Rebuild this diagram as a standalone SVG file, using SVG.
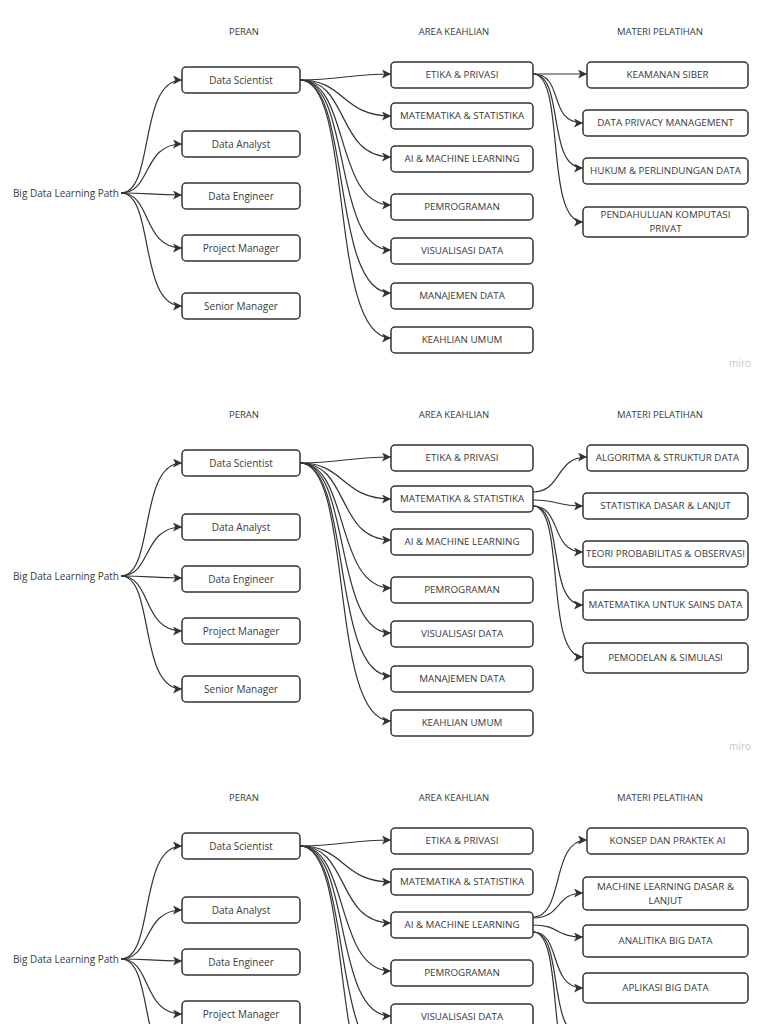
<svg xmlns="http://www.w3.org/2000/svg" width="768" height="1024" viewBox="0 0 768 1024">
<defs>
<marker id="ah" viewBox="0 0 10 10" refX="10" refY="5" markerWidth="9" markerHeight="9" markerUnits="userSpaceOnUse" orient="auto">
<path d="M0,0 L10,5 L0,10 L2.5,5 z" fill="#333"/>
</marker>
</defs>
<style>
.box{fill:#fff;stroke:#333;stroke-width:1.5}
.t{font-family:"Open Sans","Liberation Sans",sans-serif;font-size:10px;fill:#3a3a3a;text-anchor:middle}
.c{font-size:9.8px}
.h{font-family:"Open Sans","Liberation Sans",sans-serif;font-size:9.5px;fill:#3a3a3a;text-anchor:middle}
.root{font-family:"Open Sans","Liberation Sans",sans-serif;font-size:10px;fill:#3a3a3a;text-anchor:end}
.miro{font-family:"Open Sans","Liberation Sans",sans-serif;font-size:10px;fill:#c8c8c8;text-anchor:end}
.e{fill:none;stroke:#333;stroke-width:1.2;marker-end:url(#ah)}
</style>
<rect width="768" height="1024" fill="#fff"/>

<!-- PANEL 1 -->
<g id="panel1">
<text class="h" x="244" y="35">PERAN</text>
<text class="h" x="454" y="35">AREA KEAHLIAN</text>
<text class="h" x="660" y="35">MATERI PELATIHAN</text>
<text class="miro" x="751" y="367">miro</text>
<g id="p1-connectors">
<path class="e" d="M121,193 C155,193 138,80 182,80"/>
<path class="e" d="M121,193 C152,193 142,144 182,144"/>
<path class="e" d="M121,193 C150,193 150,195 182,195"/>
<path class="e" d="M121,193 C152,193 142,248 182,248"/>
<path class="e" d="M121,193 C155,193 138,306 182,306"/>
<path class="e" d="M300,80 C340,80 350,74 391,74"/>
<path class="e" d="M300,80 C345,80 342,116 391,116"/>
<path class="e" d="M300,80 C350,80 336,157 391,157"/>
<path class="e" d="M300,80 C350,80 334,205 391,205"/>
<path class="e" d="M300,80 C352,80 332,250 391,250"/>
<path class="e" d="M300,80 C352,80 330,293 391,293"/>
<path class="e" d="M300,80 C354,80 328,338 391,338"/>
<path class="e" d="M533,74 L587,74"/>
<path class="e" d="M533,74 C565,74 547,123 583,123"/>
<path class="e" d="M533,74 C565,74 546,168 583,168"/>
<path class="e" d="M533,74 C566,74 544,222 583,222"/>
</g>
<g id="p1-root"><text class="root" x="119" y="196.5">Big Data Learning Path</text></g>
<g id="p1-ds"><rect class="box" x="182" y="67" width="118" height="26" rx="4"/><text class="t" x="241" y="83.5">Data Scientist</text></g>
<g id="p1-da"><rect class="box" x="182" y="131" width="118" height="26" rx="4"/><text class="t" x="241" y="147.5">Data Analyst</text></g>
<g id="p1-de"><rect class="box" x="182" y="183" width="118" height="26" rx="4"/><text class="t" x="241" y="199.5">Data Engineer</text></g>
<g id="p1-pm"><rect class="box" x="182" y="235" width="118" height="26" rx="4"/><text class="t" x="241" y="251.5">Project Manager</text></g>
<g id="p1-sm"><rect class="box" x="182" y="293" width="118" height="26" rx="4"/><text class="t" x="241" y="309.5">Senior Manager</text></g>
<g id="p1-etika"><rect class="box" x="391" y="62" width="142" height="26" rx="4"/><text class="t c" x="462" y="78">ETIKA &amp; PRIVASI</text></g>
<g id="p1-mat"><rect class="box" x="391" y="103" width="142" height="26" rx="4"/><text class="t c" x="462" y="119">MATEMATIKA &amp; STATISTIKA</text></g>
<g id="p1-ai"><rect class="box" x="391" y="146" width="142" height="26" rx="4"/><text class="t c" x="462" y="162">AI &amp; MACHINE LEARNING</text></g>
<g id="p1-pem"><rect class="box" x="391" y="194" width="142" height="26" rx="4"/><text class="t c" x="462" y="210">PEMROGRAMAN</text></g>
<g id="p1-vis"><rect class="box" x="391" y="238" width="142" height="26" rx="4"/><text class="t c" x="462" y="254">VISUALISASI DATA</text></g>
<g id="p1-man"><rect class="box" x="391" y="283" width="142" height="26" rx="4"/><text class="t c" x="462" y="299">MANAJEMEN DATA</text></g>
<g id="p1-kea"><rect class="box" x="391" y="327" width="142" height="26" rx="4"/><text class="t c" x="462" y="343">KEAHLIAN UMUM</text></g>
<g id="p1-m1"><rect class="box" x="587" y="62" width="161" height="26" rx="4"/><text class="t c" x="667.5" y="78">KEAMANAN SIBER</text></g>
<g id="p1-m2"><rect class="box" x="583" y="110" width="165" height="26" rx="4"/><text class="t c" x="665.5" y="126">DATA PRIVACY MANAGEMENT</text></g>
<g id="p1-m3"><rect class="box" x="583" y="158" width="165" height="26" rx="4"/><text class="t c" x="665.5" y="174">HUKUM &amp; PERLINDUNGAN DATA</text></g>
<g id="p1-m4"><rect class="box" x="583" y="207" width="165" height="30" rx="4"/><text class="t c" x="665.5" y="217.5">PENDAHULUAN KOMPUTASI</text><text class="t c" x="665.5" y="231.5">PRIVAT</text></g>
</g>

<!-- PANEL 2 -->
<g id="panel2" transform="translate(0,383)">
<text class="h" x="244" y="35">PERAN</text>
<text class="h" x="454" y="35">AREA KEAHLIAN</text>
<text class="h" x="660" y="35">MATERI PELATIHAN</text>
<text class="miro" x="751" y="367">miro</text>
<g id="p2-connectors">
<path class="e" d="M121,193 C155,193 138,80 182,80"/>
<path class="e" d="M121,193 C152,193 142,144 182,144"/>
<path class="e" d="M121,193 C150,193 150,195 182,195"/>
<path class="e" d="M121,193 C152,193 142,248 182,248"/>
<path class="e" d="M121,193 C155,193 138,306 182,306"/>
<path class="e" d="M300,80 C340,80 350,74 391,74"/>
<path class="e" d="M300,80 C345,80 342,116 391,116"/>
<path class="e" d="M300,80 C350,80 336,157 391,157"/>
<path class="e" d="M300,80 C350,80 334,205 391,205"/>
<path class="e" d="M300,80 C352,80 332,250 391,250"/>
<path class="e" d="M300,80 C352,80 330,293 391,293"/>
<path class="e" d="M300,80 C354,80 328,338 391,338"/>
<path class="e" d="M533,109 C562,109 555,74 587,74"/>
<path class="e" d="M533,117 C560,117 555,123 583,123"/>
<path class="e" d="M533,123 C562,123 550,169 583,169"/>
<path class="e" d="M533,123 C565,123 546,222 583,222"/>
<path class="e" d="M533,123 C566,123 544,274 583,274"/>
</g>
<g id="p2-root"><text class="root" x="119" y="196.5">Big Data Learning Path</text></g>
<g id="p2-ds"><rect class="box" x="182" y="67" width="118" height="26" rx="4"/><text class="t" x="241" y="83.5">Data Scientist</text></g>
<g id="p2-da"><rect class="box" x="182" y="131" width="118" height="26" rx="4"/><text class="t" x="241" y="147.5">Data Analyst</text></g>
<g id="p2-de"><rect class="box" x="182" y="183" width="118" height="26" rx="4"/><text class="t" x="241" y="199.5">Data Engineer</text></g>
<g id="p2-pm"><rect class="box" x="182" y="235" width="118" height="26" rx="4"/><text class="t" x="241" y="251.5">Project Manager</text></g>
<g id="p2-sm"><rect class="box" x="182" y="293" width="118" height="26" rx="4"/><text class="t" x="241" y="309.5">Senior Manager</text></g>
<g id="p2-etika"><rect class="box" x="391" y="62" width="142" height="26" rx="4"/><text class="t c" x="462" y="78">ETIKA &amp; PRIVASI</text></g>
<g id="p2-mat"><rect class="box" x="391" y="103" width="142" height="26" rx="4"/><text class="t c" x="462" y="119">MATEMATIKA &amp; STATISTIKA</text></g>
<g id="p2-ai"><rect class="box" x="391" y="146" width="142" height="26" rx="4"/><text class="t c" x="462" y="162">AI &amp; MACHINE LEARNING</text></g>
<g id="p2-pem"><rect class="box" x="391" y="194" width="142" height="26" rx="4"/><text class="t c" x="462" y="210">PEMROGRAMAN</text></g>
<g id="p2-vis"><rect class="box" x="391" y="238" width="142" height="26" rx="4"/><text class="t c" x="462" y="254">VISUALISASI DATA</text></g>
<g id="p2-man"><rect class="box" x="391" y="283" width="142" height="26" rx="4"/><text class="t c" x="462" y="299">MANAJEMEN DATA</text></g>
<g id="p2-kea"><rect class="box" x="391" y="327" width="142" height="26" rx="4"/><text class="t c" x="462" y="343">KEAHLIAN UMUM</text></g>
<g id="p2-m1"><rect class="box" x="587" y="62" width="161" height="26" rx="4"/><text class="t c" x="667.5" y="78">ALGORITMA &amp; STRUKTUR DATA</text></g>
<g id="p2-m2"><rect class="box" x="583" y="110" width="165" height="26" rx="4"/><text class="t c" x="665.5" y="126">STATISTIKA DASAR &amp; LANJUT</text></g>
<g id="p2-m3"><rect class="box" x="583" y="158" width="165" height="26" rx="4"/><text class="t c" x="665.5" y="174">TEORI PROBABILITAS &amp; OBSERVASI</text></g>
<g id="p2-m4"><rect class="box" x="583" y="207" width="165" height="30" rx="4"/><text class="t c" x="665.5" y="225">MATEMATIKA UNTUK SAINS DATA</text></g>
<g id="p2-m5"><rect class="box" x="583" y="260" width="165" height="30" rx="4"/><text class="t c" x="665.5" y="278">PEMODELAN &amp; SIMULASI</text></g>
</g>

<!-- PANEL 3 -->
<g id="panel3" transform="translate(0,766)">
<text class="h" x="244" y="35">PERAN</text>
<text class="h" x="454" y="35">AREA KEAHLIAN</text>
<text class="h" x="660" y="35">MATERI PELATIHAN</text>
<g id="p3-connectors">
<path class="e" d="M121,193 C155,193 138,80 182,80"/>
<path class="e" d="M121,193 C152,193 142,144 182,144"/>
<path class="e" d="M121,193 C150,193 150,195 182,195"/>
<path class="e" d="M121,193 C152,193 142,248 182,248"/>
<path class="e" d="M121,193 C155,193 138,306 182,306"/>
<path class="e" d="M300,80 C340,80 350,74 391,74"/>
<path class="e" d="M300,80 C345,80 342,116 391,116"/>
<path class="e" d="M300,80 C350,80 336,157 391,157"/>
<path class="e" d="M300,80 C350,80 334,205 391,205"/>
<path class="e" d="M300,80 C352,80 332,250 391,250"/>
<path class="e" d="M300,80 C352,80 330,293 391,293"/>
<path class="e" d="M300,80 C354,80 328,338 391,338"/>
<path class="e" d="M533,151 C565,151 550,74 587,74"/>
<path class="e" d="M533,152 C562,152 555,127 583,127"/>
<path class="e" d="M533,159 C560,159 555,171 583,171"/>
<path class="e" d="M533,166 C562,166 548,222 583,222"/>
<path class="e" d="M533,166 C565,166 546,270 583,270"/>
<path class="e" d="M533,166 C566,166 544,318 583,318"/>
</g>
<g id="p3-root"><text class="root" x="119" y="196.5">Big Data Learning Path</text></g>
<g id="p3-ds"><rect class="box" x="182" y="67" width="118" height="26" rx="4"/><text class="t" x="241" y="83.5">Data Scientist</text></g>
<g id="p3-da"><rect class="box" x="182" y="131" width="118" height="26" rx="4"/><text class="t" x="241" y="147.5">Data Analyst</text></g>
<g id="p3-de"><rect class="box" x="182" y="183" width="118" height="26" rx="4"/><text class="t" x="241" y="199.5">Data Engineer</text></g>
<g id="p3-pm"><rect class="box" x="182" y="235" width="118" height="26" rx="4"/><text class="t" x="241" y="251.5">Project Manager</text></g>
<g id="p3-etika"><rect class="box" x="391" y="62" width="142" height="26" rx="4"/><text class="t c" x="462" y="78">ETIKA &amp; PRIVASI</text></g>
<g id="p3-mat"><rect class="box" x="391" y="103" width="142" height="26" rx="4"/><text class="t c" x="462" y="119">MATEMATIKA &amp; STATISTIKA</text></g>
<g id="p3-ai"><rect class="box" x="391" y="146" width="142" height="26" rx="4"/><text class="t c" x="462" y="162">AI &amp; MACHINE LEARNING</text></g>
<g id="p3-pem"><rect class="box" x="391" y="194" width="142" height="26" rx="4"/><text class="t c" x="462" y="210">PEMROGRAMAN</text></g>
<g id="p3-vis"><rect class="box" x="391" y="238" width="142" height="26" rx="4"/><text class="t c" x="462" y="254">VISUALISASI DATA</text></g>
<g id="p3-m1"><rect class="box" x="587" y="62" width="161" height="26" rx="4"/><text class="t c" x="667.5" y="78">KONSEP DAN PRAKTEK AI</text></g>
<g id="p3-m2"><rect class="box" x="583" y="111" width="165" height="33" rx="4"/><text class="t c" x="665.5" y="123.5">MACHINE LEARNING DASAR &amp;</text><text class="t c" x="665.5" y="138">LANJUT</text></g>
<g id="p3-m3"><rect class="box" x="583" y="159" width="165" height="32" rx="4"/><text class="t c" x="665.5" y="178">ANALITIKA BIG DATA</text></g>
<g id="p3-m4"><rect class="box" x="583" y="207" width="165" height="30" rx="4"/><text class="t c" x="665.5" y="225">APLIKASI BIG DATA</text></g>
</g>
</svg>
